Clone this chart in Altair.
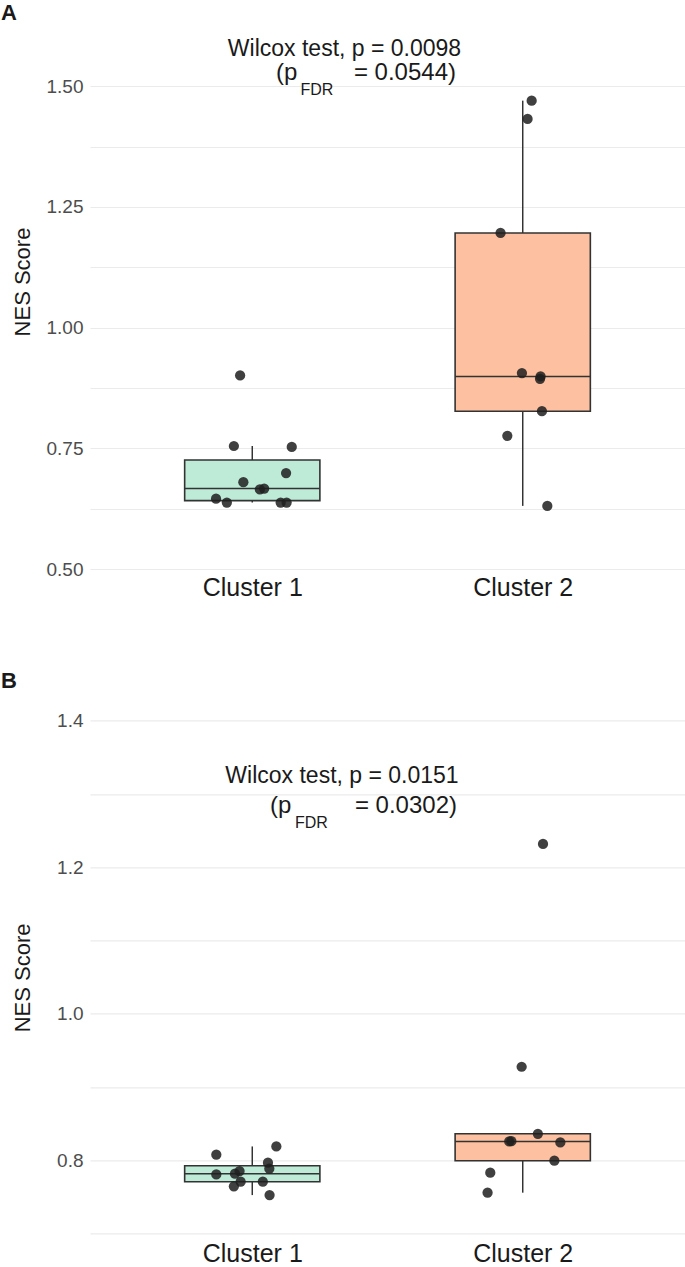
import altair as alt
import numpy as np
import pandas as pd

FONT = "Liberation Sans"
CLUSTERS = ["Cluster 1", "Cluster 2"]
BOX_FILLS = ["#BDEBD8", "#FDC0A0"]

# ---- Panel A: NES scores per sample, with horizontal jitter (category units)
a_c1_nes = [0.901, 0.755, 0.753, 0.680, 0.699, 0.665, 0.667, 0.646, 0.638, 0.638, 0.638]
a_c1_jit = [-0.045, -0.068, 0.146, -0.033, 0.125, 0.028, 0.044, -0.134, -0.094, 0.105, 0.127]
a_c2_nes = [1.470, 1.432, 1.196, 0.906, 0.899, 0.894, 0.827, 0.776, 0.631]
a_c2_jit = [0.033, 0.018, -0.082, -0.003, 0.066, 0.064, 0.071, -0.057, 0.091]
a_p_value = "0.0098"
a_p_fdr = "0.0544"

# ---- Panel B
b_c1_nes = [0.8075, 0.8188, 0.7806, 0.7816, 0.7852, 0.7966, 0.7884, 0.7707, 0.7643, 0.7707, 0.7524]
b_c1_jit = [-0.133, 0.089, -0.133, -0.064, -0.047, 0.058, 0.063, -0.043, -0.068, 0.039, 0.064]
b_c2_nes = [1.2318, 0.9276, 0.8361, 0.8256, 0.8260, 0.8243, 0.7993, 0.7830, 0.7557]
b_c2_jit = [0.075, -0.004, 0.056, -0.050, -0.042, 0.139, 0.117, -0.120, -0.130]
b_p_value = "0.0151"
b_p_fdr = "0.0302"

# y-axis breaks (major labelled, minor grid only)
a_major = [0.5, 0.75, 1.0, 1.25, 1.5]
a_minor = [0.625, 0.875, 1.125, 1.375]
b_major = [0.8, 1.0, 1.2, 1.4]
b_minor = [0.7, 0.9, 1.1, 1.3]

PLOT_W = 595
INK = "#333333"


def box_stats(values):
    v = np.asarray(values, dtype=float)
    q1, med, q3 = np.quantile(v, [0.25, 0.5, 0.75])
    iqr = q3 - q1
    lo = v[v >= q1 - 1.5 * iqr].min()
    hi = v[v <= q3 + 1.5 * iqr].max()
    return q1, med, q3, lo, hi


def build_frames(groups):
    stat_rows, point_rows = [], []
    for i, (vals, jit) in enumerate(groups):
        pos = i + 1
        q1, med, q3, lo, hi = box_stats(vals)
        stat_rows.append(dict(pos=pos, left=pos - 0.25, right=pos + 0.25,
                              q1=q1, med=med, q3=q3, lo=lo, hi=hi,
                              fill=BOX_FILLS[i]))
        for v, j in zip(vals, jit):
            point_rows.append(dict(x=pos + j, nes=v))
    return pd.DataFrame(stat_rows), pd.DataFrame(point_rows)


def text_layer(text, x, y, size=23, align="left", weight="normal"):
    return alt.Chart(pd.DataFrame({"t": [text]})).mark_text(
        font=FONT, fontSize=size, align=align, baseline="alphabetic",
        fontWeight=weight, color="#1A1A1A"
    ).encode(x=alt.value(x), y=alt.value(y), text="t:N")


def panel(letter, groups, y_domain, major, minor, fmt, height,
          title_y, ann, p_value, p_fdr, letter_y):
    stats, pts = build_frames(groups)
    x_scale = alt.Scale(domain=[0.4, 2.6], nice=False, zero=False)
    y_scale = alt.Scale(domain=y_domain, nice=False, zero=False)

    cat_expr = "[" + ",".join(f"'{c}'" for c in CLUSTERS) + "][datum.value - 1]"
    major_expr = "[" + ",".join(repr(m) for m in major) + "]"
    x_axis = alt.Axis(values=[1, 2], labelExpr=cat_expr, title=None, grid=False,
                      ticks=False, tickSize=0, domain=False, labelFont=FONT,
                      labelFontSize=25, labelColor="#1A1A1A", labelPadding=21,
                      labelBaseline="alphabetic")
    y_axis = alt.Axis(values=sorted(major + minor),
                      labelExpr=f"indexof({major_expr}, datum.value) >= 0 ? format(datum.value, '{fmt}') : ''",
                      title="NES Score", grid=True, gridColor="#EBEBEB", gridWidth=1.1,
                      ticks=False, tickSize=0, domain=False, labelFont=FONT,
                      labelFontSize=19, labelColor="#4D4D4D", labelPadding=7,
                      titleFont=FONT, titleFontSize=22, titleFontWeight="normal",
                      titleColor="#1A1A1A", titleX=-68, titleY=title_y,
                      titleAngle=270, titleAlign="center", titleBaseline="middle")

    def X(field):
        return alt.X(field, scale=x_scale, axis=x_axis)

    def Y(field):
        return alt.Y(field, scale=y_scale, axis=y_axis)

    base = alt.Chart(stats)
    whisk_lo = base.mark_rule(color=INK, strokeWidth=1.5).encode(
        x=X("pos:Q"), y=Y("lo:Q"), y2="q1:Q")
    whisk_hi = base.mark_rule(color=INK, strokeWidth=1.5).encode(
        x=X("pos:Q"), y=Y("q3:Q"), y2="hi:Q")
    box = base.mark_bar(stroke=INK, strokeWidth=1.6).encode(
        x=X("left:Q"), x2="right:Q", y=Y("q1:Q"), y2="q3:Q",
        fill=alt.Fill("fill:N", scale=None))
    median = base.mark_rule(color=INK, strokeWidth=1.6).encode(
        x=X("left:Q"), x2="right:Q", y=Y("med:Q"))
    points = alt.Chart(pts).mark_circle(size=105, color="#1F1F1F", opacity=0.85).encode(
        x=X("x:Q"), y=Y("nes:Q"))

    ax, ay = ann["line1"]
    b2 = ann["base2"]
    layers = [whisk_lo, whisk_hi, box, median, points,
              text_layer(f"Wilcox test, p = {p_value}", ax, ay, align="center"),
              text_layer("(p", ann["open"], b2, size=24),
              text_layer("FDR", ann["sub"], b2 + 15, size=16),
              text_layer(f"= {p_fdr})", ann["close"], b2, size=24, align="right"),
              text_layer(letter, -89, letter_y, size=22, weight="bold")]
    return alt.layer(*layers).properties(width=PLOT_W, height=height)


panel_a = panel(
    "A", [(a_c1_nes, a_c1_jit), (a_c2_nes, a_c2_jit)], [0.49, 1.55],
    a_major, a_minor, ".2f", 512, 219.5,
    dict(line1=(254.5, -6.5), open=186, sub=210.5, close=366, base2=18),
    a_p_value, a_p_fdr, -41.8)

# invisible frame rule fixing the top-left corner of the figure
anchor = alt.Chart(pd.DataFrame({"a": [0]})).mark_rule(opacity=0, strokeWidth=1).encode(
    x=alt.value(-89.5), x2=alt.value(PLOT_W), y=alt.value(-62))
panel_a = alt.layer(panel_a, anchor)

panel_b = panel(
    "B", [(b_c1_nes, b_c1_jit), (b_c2_nes, b_c2_jit)], [0.69, 1.44],
    b_major, b_minor, ".1f", 549.4, 286,
    dict(line1=(252, 91.4), open=180, sub=205, close=367, base2=121.8),
    b_p_value, b_p_fdr, -3.9)

chart = alt.vconcat(panel_a, panel_b, spacing=117.4, bounds="flush").properties(
    padding=0, background="white"
).configure_view(strokeWidth=0)

chart.save("out.html", embed_options={"renderer": "svg", "actions": False})
